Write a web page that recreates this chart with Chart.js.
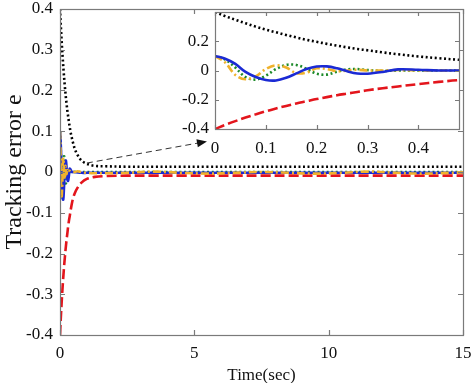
<!DOCTYPE html>
<html><head><meta charset="utf-8">
<script src="https://cdn.jsdelivr.net/npm/chart.js@4.4.1/dist/chart.umd.min.js"></script>
<style>
html,body{margin:0;padding:0;background:#fff;}
#wrap{position:relative;width:474px;height:383px;overflow:hidden;}
#main{position:absolute;left:0;top:0;}
#inset{position:absolute;left:170px;top:0;}
</style></head><body>
<div id="wrap"><canvas id="main" width="474" height="383"></canvas><canvas id="inset" width="304" height="165"></canvas></div>
<script>
// ---- data ----
const time = [0,0.02,0.04,0.06,0.08,0.1,0.12,0.14,0.16,0.18,0.2,0.22,0.24,0.26,0.28,0.3,0.33,0.36,0.4,0.44,0.48,0.55,0.65,0.8,1.0,1.3,1.7,2.5,3.5,4.5,5.5,6.5,7.5,8.5,9.5,10.5,11.5,12.5,13.5,14.5,15];
const errBlack = [0.4,0.372,0.347,0.323,0.3,0.28,0.261,0.243,0.226,0.21,0.196,0.182,0.17,0.158,0.147,0.138,0.124,0.111,0.096,0.084,0.073,0.057,0.042,0.028,0.02,0.015,0.014,0.013,0.013,0.013,0.013,0.013,0.013,0.013,0.013,0.013,0.013,0.013,0.013,0.013,0.013];
const errRed = [-0.4,-0.372,-0.346,-0.322,-0.3,-0.279,-0.26,-0.242,-0.225,-0.21,-0.195,-0.182,-0.169,-0.158,-0.147,-0.135,-0.121,-0.109,-0.093,-0.078,-0.066,-0.052,-0.039,-0.026,-0.017,-0.012,-0.01,-0.009,-0.009,-0.009,-0.009,-0.009,-0.009,-0.009,-0.009,-0.009,-0.009,-0.009,-0.009,-0.009,-0.009];
const errBlue = [0.1,0.08,0.045,-0.01,-0.045,-0.065,-0.068,-0.05,-0.02,0.01,0.027,0.028,0.015,-0.005,-0.02,-0.022,-0.01,0.008,0.005,0,0,0,-0.001,-0.002,-0.002,-0.002,-0.002,-0.002,-0.002,-0.002,-0.002,-0.002,-0.002,-0.002,-0.002,-0.002,-0.002,-0.002,-0.002,-0.002,-0.002];
const errGreen = [0.1,0.075,0.02,-0.045,-0.062,-0.035,0.01,0.038,0.038,0.012,-0.022,-0.028,-0.008,0.008,0.01,0.003,-0.003,0,0,0,0,0,0,0,0,0,0,0,0,0,0,0,0,0,0,0,0,0,0,0,0];
const errYellow = [0.1,0.055,-0.03,-0.06,-0.04,0.01,0.035,0.02,-0.018,-0.015,0.015,0.01,-0.005,0,0.005,0,0,0.003,0.001,0,0,0,0.002,0,-0.002,-0.003,-0.003,-0.002,0.001,-0.002,-0.004,-0.002,0,-0.002,-0.004,-0.002,0.001,-0.002,-0.004,-0.002,-0.001];
const mainXTicks = [0,5,10,15];
const mainYTicks = [-0.4,-0.3,-0.2,-0.1,0,0.1,0.2,0.3,0.4];
const insetXTicks = [0,0.1,0.2,0.3,0.4];
const insetYTicks = [-0.4,-0.2,0,0.2];
const arrowFrom = [1.0, 0.022];
const arrowTo = [5.47, 0.075];

// ---- helpers ----
const pts = ys => time.map((t,i)=>({x:t,y:ys[i]}));
const SERIF = "'Liberation Serif','Times New Roman',serif";
function makeDatasets(topFirst){
  const ds = {
    black:{label:'black',data:pts(errBlack),borderColor:'#000000',borderWidth:2.6,borderDash:[2,2.6]},
    red:{label:'red',data:pts(errRed),borderColor:'#e3151c',borderWidth:2.6,borderDash:[10,4]},
    green:{label:'green',data:pts(errGreen),borderColor:'#1d8a2a',borderWidth:2.6,borderDash:[2,2.6]},
    yellow:{label:'yellow',data:pts(errYellow),borderColor:'#efb22c',borderWidth:2.6,borderDash:[8,3,2,3]},
    blue:{label:'blue',data:pts(errBlue),borderColor:'#1b2ad4',borderWidth:2.6,borderDash:[]}
  };
  return topFirst.map(k=>Object.assign({pointRadius:0,tension:0.35,fill:false,borderCapStyle:'butt'},ds[k]));
}
function fmt(v){ const r = Math.round(v*10)/10; return (r===0?'0':String(r)); }
function framePlugin(len){
  return {
    id:'frame',
    beforeDatasetsDraw(chart){
      const a=chart.chartArea,c=chart.ctx;
      c.save();c.fillStyle='#ffffff';c.fillRect(a.left,a.top,a.right-a.left,a.bottom-a.top);c.restore();
    },
    afterDatasetsDraw(chart){
      const a=chart.chartArea,c=chart.ctx,xs=chart.scales.x,ys=chart.scales.y;
      c.save();c.strokeStyle='#7a7a7a';c.lineWidth=1.2;
      c.strokeRect(Math.round(a.left)+0.5,Math.round(a.top)+0.5,Math.round(a.right-a.left),Math.round(a.bottom-a.top));
      c.beginPath();
      xs.ticks.forEach(t=>{const p=Math.round(xs.getPixelForValue(t.value))+0.5;
        c.moveTo(p,a.bottom);c.lineTo(p,a.bottom-len);c.moveTo(p,a.top);c.lineTo(p,a.top+len);});
      ys.ticks.forEach(t=>{const p=Math.round(ys.getPixelForValue(t.value))+0.5;
        c.moveTo(a.left,p);c.lineTo(a.left+len,p);c.moveTo(a.right,p);c.lineTo(a.right-len,p);});
      c.stroke();c.restore();
    }
  };
}
const arrowPlugin = {
  id:'arrow',
  afterDatasetsDraw(chart){
    const xs=chart.scales.x,ys=chart.scales.y,c=chart.ctx;
    const x1=xs.getPixelForValue(arrowFrom[0]),y1=ys.getPixelForValue(arrowFrom[1]);
    const x2=xs.getPixelForValue(arrowTo[0]),y2=ys.getPixelForValue(arrowTo[1]);
    const ang=Math.atan2(y2-y1,x2-x1);
    c.save();c.strokeStyle='#333';c.lineWidth=1;c.setLineDash([6,4]);
    c.beginPath();c.moveTo(x1,y1);c.lineTo(x2-8*Math.cos(ang),y2-8*Math.sin(ang));c.stroke();
    c.setLineDash([]);c.fillStyle='#111';c.beginPath();
    c.moveTo(x2,y2);
    c.lineTo(x2-10*Math.cos(ang)+4*Math.sin(ang),y2-10*Math.sin(ang)-4*Math.cos(ang));
    c.lineTo(x2-10*Math.cos(ang)-4*Math.sin(ang),y2-10*Math.sin(ang)+4*Math.cos(ang));
    c.closePath();c.fill();c.restore();
  }
};
function fixTicks(list){ return function(scale){ scale.ticks = list.map(v=>({value:v})); }; }
function fitX(h){ return function(s){ s.height=h; s.paddingLeft=0; s.paddingRight=0; s.paddingTop=0; s.paddingBottom=0; }; }
function fitY(w){ return function(s){ s.width=w; s.paddingLeft=0; s.paddingRight=0; s.paddingTop=0; s.paddingBottom=0; }; }

// ---- main chart ----
new Chart(document.getElementById('main'),{
  type:'line',
  data:{datasets:makeDatasets(['yellow','blue','green','black','red'])},
  options:{
    responsive:false,animation:false,devicePixelRatio:1,
    layout:{padding:{left:0,top:9,right:11,bottom:0}},
    plugins:{legend:{display:false},tooltip:{enabled:false}},
    scales:{
      x:{type:'linear',min:0,max:15,
        afterBuildTicks:fixTicks(mainXTicks),
        afterFit:fitX(48),
        grid:{display:false,drawTicks:false},border:{display:false},
        ticks:{color:'#111',font:{family:SERIF,size:17},padding:8,maxRotation:0,callback:v=>String(v)},
        title:{display:true,text:'Time(sec)',color:'#111',font:{family:SERIF,size:17,lineHeight:0.85},padding:{top:0,bottom:0}}
      },
      y:{type:'linear',min:-0.4,max:0.4,
        afterBuildTicks:fixTicks(mainYTicks),
        afterFit:fitY(60),
        grid:{display:false,drawTicks:false},border:{display:false},
        ticks:{color:'#111',font:{family:SERIF,size:17},padding:7,callback:fmt},
        title:{display:true,text:'Tracking error e',color:'#111',font:{family:SERIF,size:24},padding:{top:0,bottom:0}}
      }
    }
  },
  plugins:[framePlugin(5),arrowPlugin]
});

// ---- inset chart ----
new Chart(document.getElementById('inset'),{
  type:'line',
  data:{datasets:makeDatasets(['blue','yellow','green','black','red'])},
  options:{
    responsive:false,animation:false,devicePixelRatio:1,
    layout:{padding:{left:0,top:12,right:15,bottom:0}},
    plugins:{legend:{display:false},tooltip:{enabled:false}},
    scales:{
      x:{type:'linear',min:0,max:0.48,
        afterBuildTicks:fixTicks(insetXTicks),
        afterFit:fitX(36),
        grid:{display:false,drawTicks:false},border:{display:false},
        ticks:{color:'#111',font:{family:SERIF,size:17},padding:9,maxRotation:0,callback:fmt}
      },
      y:{type:'linear',min:-0.4,max:0.4,
        afterBuildTicks:fixTicks(insetYTicks),
        afterFit:fitY(45),
        grid:{display:false,drawTicks:false},border:{display:false},
        ticks:{color:'#111',font:{family:SERIF,size:17},padding:6,callback:fmt}
      }
    }
  },
  plugins:[framePlugin(4)]
});
</script>
</body></html>
